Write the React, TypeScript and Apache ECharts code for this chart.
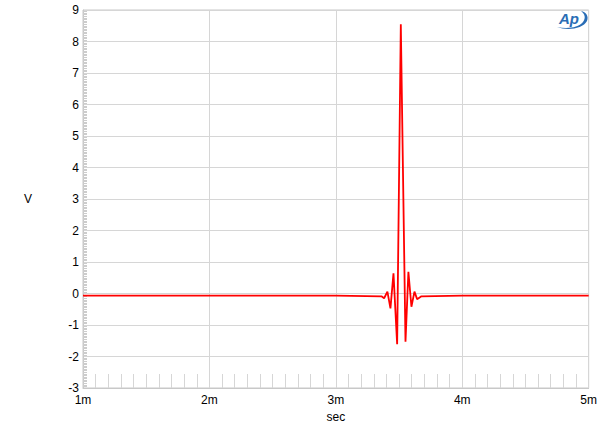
import React, { useEffect, useRef } from "react";
import * as echarts from "echarts";

const timeMs: number[] = [1.0, 2.0, 3.0, 3.361, 3.382, 3.408, 3.432, 3.456, 3.485, 3.514, 3.551, 3.574, 3.598, 3.622, 3.643, 3.677, 4.0, 5.0];
const volts: number[] = [-0.07, -0.07, -0.07, -0.09, -0.15, 0.06, -0.47, 0.64, -1.61, 8.55, -1.53, 0.69, -0.42, 0.06, -0.18, -0.09, -0.07, -0.07];
const xTicks: number[] = [1, 2, 3, 4, 5];
const yTicks: number[] = [-3, -2, -1, 0, 1, 2, 3, 4, 5, 6, 7, 8, 9];

const GRID = "#d6d6d6";
const FONT = "Liberation Sans, Arial, sans-serif";

echarts.graphic.registerShape(
  "apSwoosh",
  echarts.graphic.extendPath("M0 16 C 10 20, 26 18, 30 10 C 32 5, 29 1, 24 0 C 28 3, 29 7, 26 11 C 21 17, 10 18, 0 16 Z", {})
);

export default function App() {
  const ref = useRef<HTMLDivElement>(null);
  useEffect(() => {
    if (!ref.current) return;
    const chart = echarts.init(ref.current, null, { renderer: "svg" });
    const data = timeMs.map((t, i) => [t, volts[i]]);
    chart.setOption({
      animation: false,
      grid: { left: 83, right: 11, top: 10, bottom: 45, show: true, borderColor: "#c8c8c8", borderWidth: 1, backgroundColor: "transparent" },
      xAxis: {
        type: "value",
        min: xTicks[0],
        max: xTicks[xTicks.length - 1],
        interval: 1,
        name: "sec",
        nameLocation: "middle",
        nameGap: 23,
        nameTextStyle: { color: "#000", fontSize: 12, fontFamily: FONT },
        axisLine: { show: true, onZero: false, lineStyle: { color: "#c8c8c8" } },
        axisTick: { show: false, inside: true },
        minorTick: { show: true, splitNumber: 10, length: 14, lineStyle: { color: GRID, width: 1 } },
        axisLabel: { formatter: (v: number) => v + "m", color: "#000", fontSize: 12, fontFamily: FONT, margin: 6 },
        splitLine: { show: true, lineStyle: { color: GRID, width: 1 } },
        minorSplitLine: { show: false },
      },
      yAxis: {
        type: "value",
        min: yTicks[0],
        max: yTicks[yTicks.length - 1],
        interval: 1,
        name: "V",
        nameLocation: "middle",
        nameRotate: 0,
        nameGap: 51,
        nameTextStyle: { color: "#000", fontSize: 12, fontFamily: FONT },
        axisLine: { show: true, onZero: false, lineStyle: { color: "#c8c8c8" } },
        axisTick: { show: false, inside: true },
        minorTick: { show: true, splitNumber: 20, length: 4, lineStyle: { color: "#cccccc", width: 1 } },
        axisLabel: { color: "#000", fontSize: 12, fontFamily: FONT, margin: 4 },
        splitLine: { show: true, lineStyle: { color: GRID, width: 1 } },
      },
      series: [
        {
          type: "line",
          data,
          showSymbol: false,
          symbol: "none",
          lineStyle: { color: "#ff0000", width: 1.8 },
          z: 5,
        },
      ],
      graphic: [
        {
          type: "apSwoosh",
          x: 557,
          y: 11,
          style: { fill: "#2a6db5", stroke: "none" },
        },
        {
          type: "text",
          x: 569,
          y: 18,
          style: { text: "Ap", fill: "#2a6db5", font: "italic bold 15px " + FONT, align: "center", verticalAlign: "middle" },
        },
      ],
    });
    return () => chart.dispose();
  }, []);
  return <div ref={ref} style={{ width: 600, height: 433, position: "absolute", left: 0, top: 0 }} />;
}
